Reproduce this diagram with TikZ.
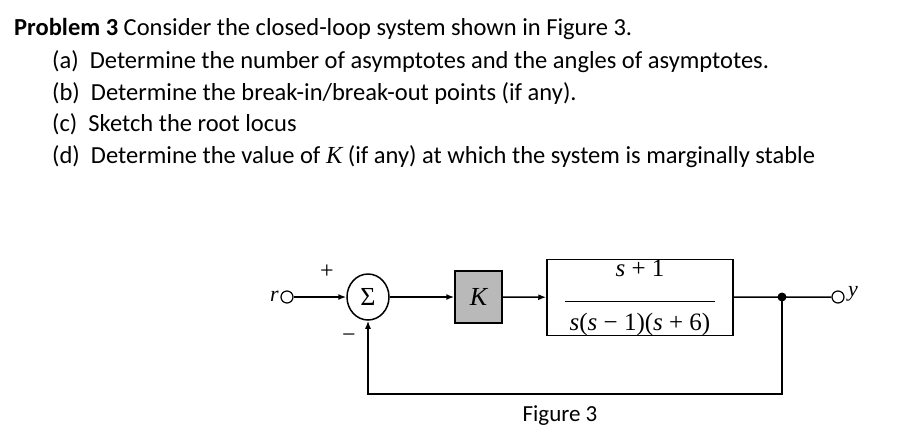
\documentclass[tikz,border=0pt]{standalone}
\usepackage{fontspec}
\setmainfont{Carlito}
\newfontfamily\tms{Liberation Serif}
\usetikzlibrary{arrows.meta,shapes.geometric}
\begin{document}
\begin{tikzpicture}[x=1pt,y=-1pt,
  txt/.style={anchor=base west,inner sep=0pt,font=\fontsize{24.5}{26}\selectfont},
  wire/.style={line width=1.5pt},
  arr/.style={wire,-{Latex[length=8pt,width=6pt]}},
  term/.style={circle,draw,line width=1.2pt,minimum size=12pt,inner sep=0pt,fill=white},
  blk/.style={draw,line width=1.5pt,inner sep=0pt}]
\useasboundingbox (0,0) rectangle (906,440);
\node[txt] (l0) at (14,35) {\textbf{Problem 3} Consider the closed-loop system shown in Figure 3.};
\node[txt] (l1) at (52,68) {(a)\ \ Determine the number of asymptotes and the angles of asymptotes.};
\node[txt] (l2) at (52,100) {(b)\ \ Determine the break-in/break-out points (if any).};
\node[txt] (l3) at (52,131) {(c)\ \ Sketch the root locus};
\node[txt] (l4) at (52,163) {(d)\ \ Determine the value of {\tms\itshape K} (if any) at which the system is marginally stable};

\node[term] (r) at (287,297) {};
\node[anchor=east,font=\tms\itshape\fontsize{22}{22}\selectfont,inner sep=1pt] (rl) at (280,296) {r};
\node[ellipse,draw,line width=1.5pt,minimum width=42pt,minimum height=46pt,inner sep=0pt,font=\tms\fontsize{26}{26}\selectfont] (sum) at (368,297) {Σ};
\node[blk,fill=gray!55,minimum width=47pt,minimum height=52pt,font=\tms\itshape\fontsize{26}{26}\selectfont] (k) at (478.5,297) {K};
\node[blk,minimum width=186pt,minimum height=71pt,font=\tms\fontsize{25}{30}\selectfont,align=center] (g) at (640,297.5) {\itshape s\upshape\ + 1\\[-4pt]\rule{150pt}{1pt}\\[-2pt]\itshape s\upshape(\itshape s\upshape\ − 1)(\itshape s\upshape\ + 6)};
\fill (782,297) circle (4.5pt) coordinate (dot);
\node[term] (y) at (838,297) {};
\node[anchor=west,font=\tms\itshape\fontsize{22}{22}\selectfont,inner sep=1pt] (yl) at (847,294) {y};
\coordinate (c1) at (782,394);
\coordinate (c2) at (368,394);
\node[font=\tms\fontsize{24}{24}\selectfont] (plus) at (327,272) {+};
\node[font=\tms\fontsize{24}{24}\selectfont] (minus) at (349,338) {−};
\node[font=\fontsize{23}{23}\selectfont] (fig) at (560,416) {Figure 3};

\draw[arr] (r) -- (sum);
\draw[arr] (sum) -- (k);
\draw[arr] (k) -- (g);
\draw[wire] (g) -- (dot) -- (y);
\draw[arr] (dot) -- (c1) -- (c2) -- (sum.south);
\end{tikzpicture}
\end{document}
